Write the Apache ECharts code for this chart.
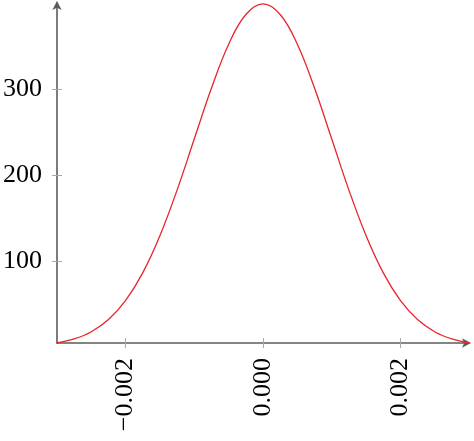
<!DOCTYPE html>
<html>
<head>
<meta charset="utf-8">
<script src="https://cdn.jsdelivr.net/npm/echarts@6/dist/echarts.min.js"></script>
<style>
html, body { margin: 0; padding: 0; background: #fff; }
#main { width: 474px; height: 441px; }
</style>
</head>
<body>
<div id="main"></div>
<script>
var myChart = echarts.init(document.getElementById('main'));

// values
var xValues = [-0.003, -0.00275, -0.0025, -0.00225, -0.002, -0.00175, -0.0015, -0.00125, -0.001,
	-0.00075, -0.0005, -0.00025, 0, 0.00025, 0.0005, 0.00075, 0.001, 0.00125, 0.0015, 0.00175,
	0.002, 0.00225, 0.0025, 0.00275, 0.003];
var yValues = [4.4, 9.1, 17.5, 31.7, 54, 86.3, 129.5, 182.6, 242, 301, 352, 386.6, 398.9,
	386.6, 352, 301, 242, 182.6, 129.5, 86.3, 54, 31.7, 17.5, 9.1, 4.4];
var xTicks = [-0.002, 0, 0.002];
var yTicks = [100, 200, 300];

var font = '"Liberation Serif", serif';
var lineColor = '#5c5c5c';
var tickColor = '#a8a8a8';

var points = xValues.map(function(x, i) {
	return [x, yValues[i]];
});

function fmtX(v) {
	var s = Math.abs(v).toFixed(3);
	return v < 0 ? '\u2212' + s : s;
}

var option = {
	animation: false,
	grid: {
		left: 57,
		right: 5,
		top: 3,
		bottom: 98
	},
	xAxis: [{
			type: 'value',
			min: -0.003,
			max: 0.003,
			splitLine: { show: false },
			axisLine: {
				onZero: false,
				symbol: ['none', 'arrow'],
				symbolSize: [7, 9],
				symbolOffset: [0, 2],
				lineStyle: { color: lineColor, width: 1.6 }
			},
			axisTick: {
				customValues: xTicks,
				length: 5,
				lineStyle: { color: tickColor }
			},
			axisLabel: {
				customValues: xTicks,
				rotate: 90,
				margin: 15,
				fontFamily: font,
				fontSize: 26,
				color: '#000',
				formatter: fmtX
			}
		},
		{
			type: 'value',
			position: 'bottom',
			min: -0.003,
			max: 0.003,
			splitLine: { show: false },
			axisLine: { show: false, onZero: false },
			axisTick: {
				customValues: xTicks,
				inside: true,
				length: 5,
				lineStyle: { color: tickColor }
			},
			axisLabel: { show: false }
		}
	],
	yAxis: [{
			type: 'value',
			min: 4.4,
			max: 400,
			splitLine: { show: false },
			axisLine: {
				show: true,
				onZero: false,
				symbol: ['none', 'arrow'],
				symbolSize: [7, 9],
				symbolOffset: [0, 2],
				lineStyle: { color: lineColor, width: 1.6 }
			},
			axisTick: {
				customValues: yTicks,
				length: 5,
				lineStyle: { color: tickColor }
			},
			axisLabel: {
				customValues: yTicks,
				margin: 15,
				fontFamily: font,
				fontSize: 26,
				color: '#000'
			}
		},
		{
			type: 'value',
			position: 'left',
			min: 4.4,
			max: 400,
			splitLine: { show: false },
			axisLine: { show: false, onZero: false },
			axisTick: {
				customValues: yTicks,
				inside: true,
				length: 5,
				lineStyle: { color: tickColor }
			},
			axisLabel: { show: false }
		}
	],
	series: [{
		type: 'line',
		data: points,
		smooth: 0.4,
		showSymbol: false,
		clip: false,
		lineStyle: { color: '#e8242c', width: 1.3 }
	}]
};

myChart.setOption(option);
</script>
</body>
</html>
